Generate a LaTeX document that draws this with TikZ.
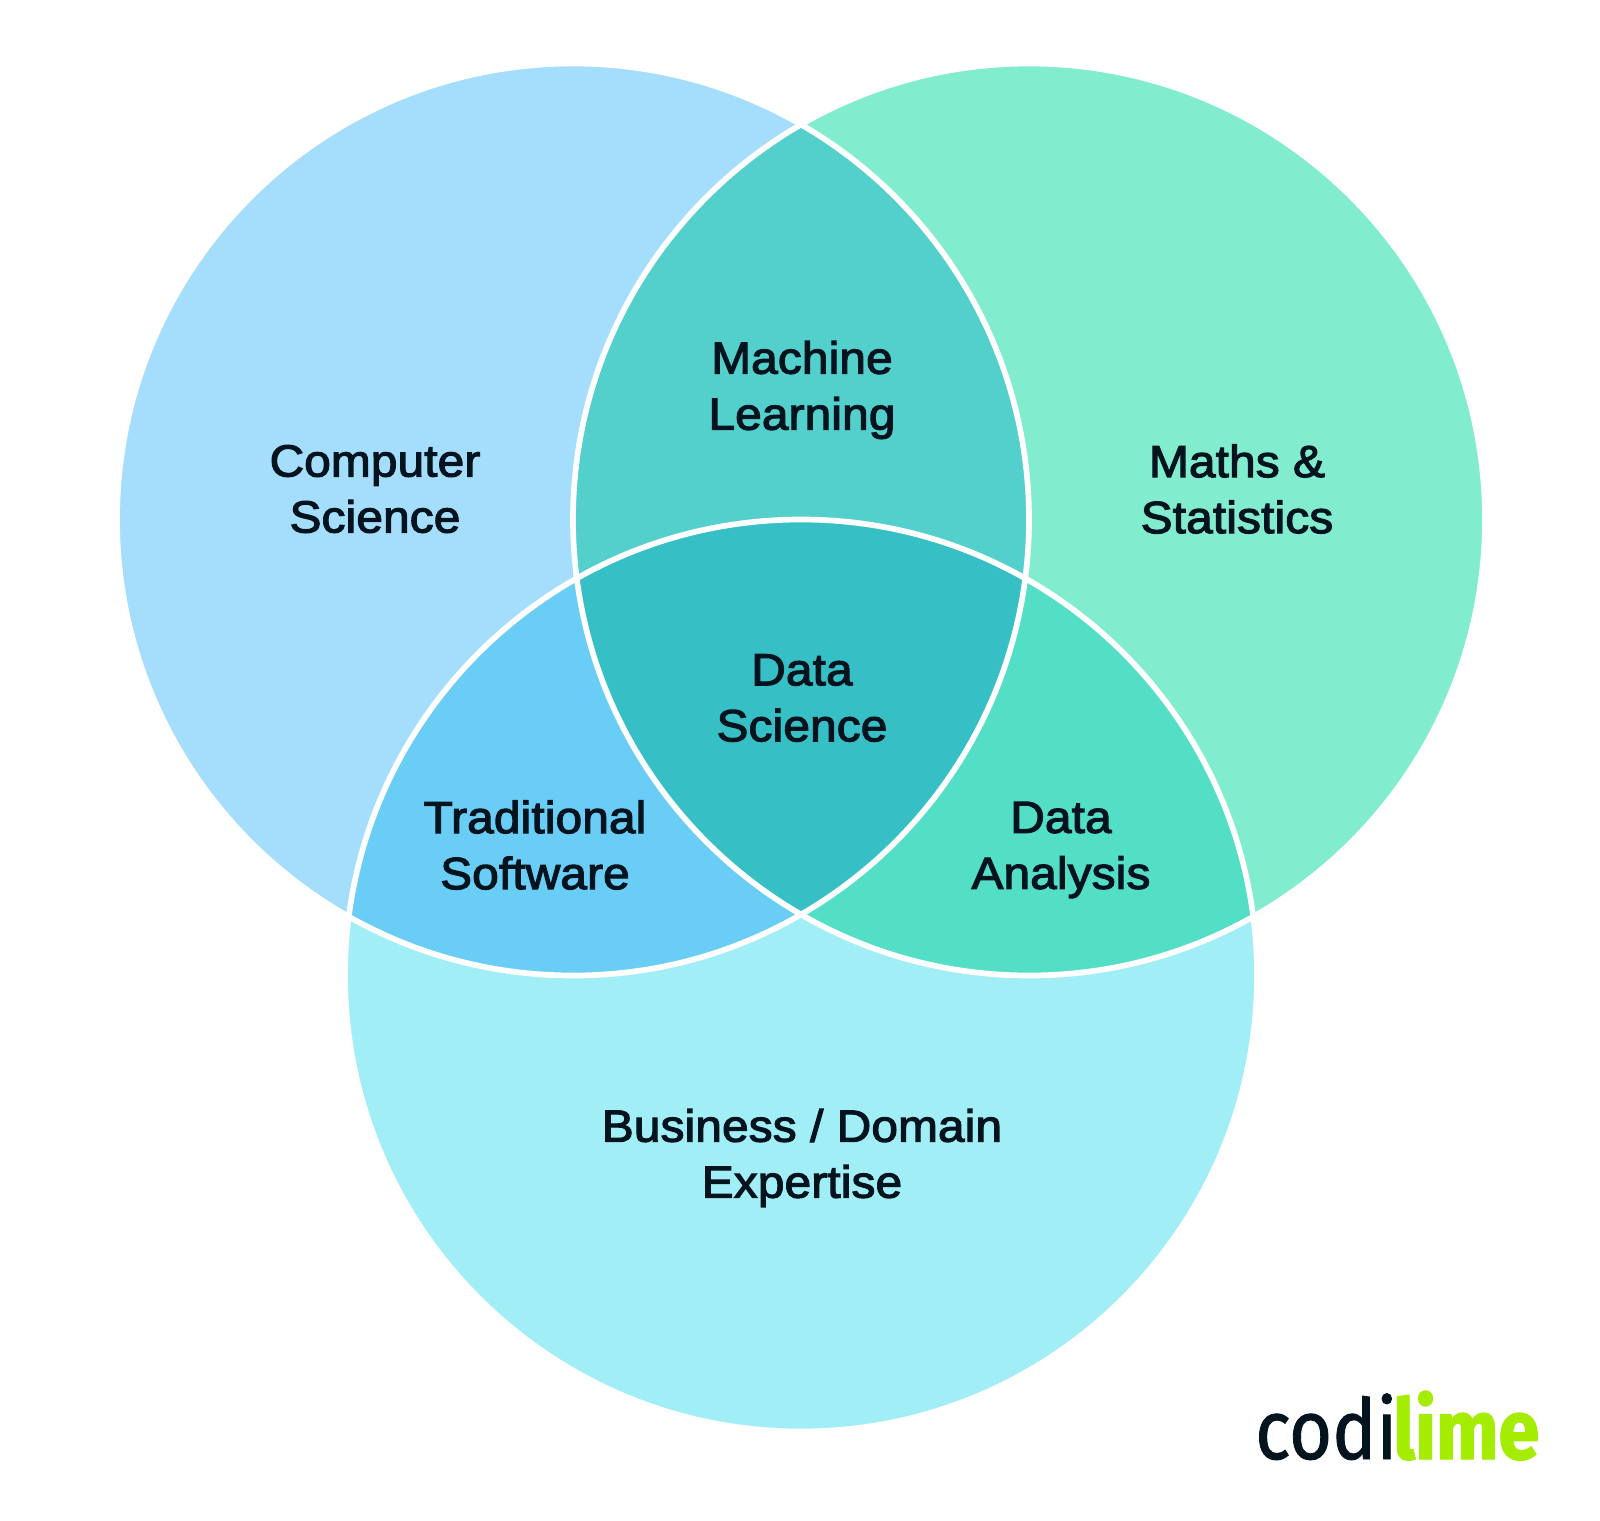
\documentclass[tikz,border=0pt]{standalone}
\usepackage{fontspec}
\setmainfont{Liberation Sans}[FakeBold=2.6,FakeStretch=1.06,LetterSpace=0.4]
\newfontfamily\logolight{Fira Sans}[FakeStretch=0.88,FakeBold=1]
\newfontfamily\logobold{Fira Sans Bold}[FakeStretch=0.88,FakeBold=1.5]
\definecolor{cleft}{HTML}{A5DEFD}
\definecolor{cright}{HTML}{82EDCE}
\definecolor{cbottom}{HTML}{A2EEF6}
\definecolor{cml}{HTML}{53CFCC}
\definecolor{ctrad}{HTML}{69CDF6}
\definecolor{cana}{HTML}{53DEC6}
\definecolor{ccentre}{HTML}{36C0C5}
\definecolor{ink}{HTML}{03141F}
\definecolor{limeg}{HTML}{A4EC00}
\tikzset{
  lab/.style={text=ink,align=center,inner sep=0pt,font=\fontsize{45}{56}\selectfont},
  ring/.style={draw=white,line width=5.7pt}
}
\begin{document}
\begin{tikzpicture}[x=1pt,y=-1pt]
\useasboundingbox (0,0) rectangle (1600,1520);
\fill[white] (0,0) rectangle (1600,1520);
\coordinate (L) at (573,519.5);
\coordinate (R) at (1029,519.5);
\coordinate (B) at (801,975.5);
\def\rad{456}
\fill[cleft] (L) circle[radius=\rad];
\fill[cright] (R) circle[radius=\rad];
\fill[cbottom] (B) circle[radius=\rad];
\begin{scope}\clip (L) circle[radius=\rad]; \fill[cml] (R) circle[radius=\rad];\end{scope}
\begin{scope}\clip (L) circle[radius=\rad]; \fill[ctrad] (B) circle[radius=\rad];\end{scope}
\begin{scope}\clip (R) circle[radius=\rad]; \fill[cana] (B) circle[radius=\rad];\end{scope}
\begin{scope}\clip (L) circle[radius=\rad]; \clip (R) circle[radius=\rad]; \fill[ccentre] (B) circle[radius=\rad];\end{scope}
\draw[ring] (L) circle[radius=\rad];
\draw[ring] (R) circle[radius=\rad];
\draw[ring] (B) circle[radius=\rad];
\node[lab] (cs) at (375,489) {Computer\\Science};
\node[lab] (ml) at (802,390) {Machine\\Learning};
\node[lab] (ms) at (1237,489) {Maths \&\\Statistics};
\node[lab] (ds) at (802,698) {Data\\Science};
\node[lab] (ts) at (535,845) {Traditional\\Software};
\node[lab] (da) at (1061,850) {Data\\Analysis};
\node[lab] (bd) at (802,1158) {Business / Domain\\Expertise};
\node[anchor=base west,inner sep=0pt,text=ink,font=\logolight\fontsize{84}{84}\selectfont] (codi) at (1255,1459) {codi};
\node[anchor=base west,inner sep=0pt,text=limeg,font=\logobold\fontsize{84}{84}\selectfont] (lime) at (1393,1459) {lime};
\end{tikzpicture}
\end{document}
